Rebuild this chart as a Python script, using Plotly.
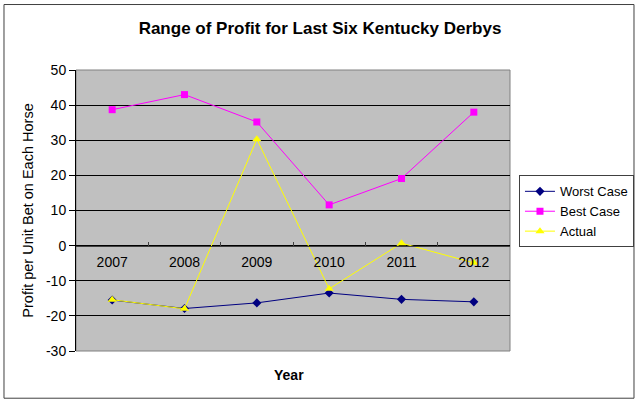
import plotly.graph_objects as go

# Kentucky Derby profit ranges
years = ["2007", "2008", "2009", "2010", "2011", "2012"]
worst_case = [-15.5, -17.9, -16.3, -13.5, -15.3, -16.0]
best_case = [38.7, 43.0, 35.2, 11.6, 19.1, 38.0]
actual = [-15.4, -18.0, 30.3, -12.3, 0.7, -4.9]
y_ticks = [-30, -20, -10, 0, 10, 20, 30, 40, 50]

FONT = "Arial, Liberation Sans, sans-serif"
Y_MIN, Y_MAX = -30, 50

fig = go.Figure()
fig.add_trace(go.Scatter(
    x=years, y=worst_case, name="Worst Case", mode="lines+markers",
    line=dict(color="#000080", width=1),
    marker=dict(symbol="diamond", size=7, color="#000080"),
))
fig.add_trace(go.Scatter(
    x=years, y=best_case, name="Best Case", mode="lines+markers",
    line=dict(color="#FF00FF", width=1),
    marker=dict(symbol="square", size=7, color="#FF00FF"),
))
fig.add_trace(go.Scatter(
    x=years, y=actual, name="Actual", mode="lines+markers",
    line=dict(color="#FFFF00", width=1),
    marker=dict(symbol="triangle-up", size=8, color="#FFFF00"),
))

# category axis sits on the zero line, like Excel does
zero_pos = (0 - Y_MIN) / (Y_MAX - Y_MIN)

fig.update_layout(
    width=640, height=403,
    margin=dict(l=76, r=130, t=70, b=52, autoexpand=False),
    paper_bgcolor="white",
    plot_bgcolor="#C0C0C0",
    font=dict(family=FONT, size=14, color="black"),
    title=dict(
        text="<b>Range of Profit for Last Six Kentucky Derbys</b>",
        x=0.5, xref="container", y=0.93, yref="container",
        xanchor="center", yanchor="middle",
        font=dict(size=17, family=FONT),
    ),
    xaxis=dict(
        type="category", automargin=False,
        range=[-0.5, len(years) - 0.5],
        anchor="free", position=zero_pos,
        showgrid=False, zeroline=False,
        showline=True, linecolor="#404040", linewidth=1,
        ticks="inside", tickson="boundaries", ticklen=4, tickcolor="#404040",
        ticklabelstandoff=4,
        tickfont=dict(size=14),
    ),
    yaxis=dict(
        range=[Y_MIN, Y_MAX], tickvals=y_ticks,
        ticktext=[str(v) for v in y_ticks],
        automargin=False,
        showgrid=True, gridcolor="black", gridwidth=1,
        zeroline=False,
        showline=True, linecolor="black", linewidth=1,
        ticks="outside", ticklen=6, tickcolor="black",
        tickfont=dict(size=14),
        title=dict(text="Profit per Unit Bet on Each Horse",
                   font=dict(size=14.5), standoff=8),
    ),
    legend=dict(
        x=1.0207, y=0.625, xanchor="left", yanchor="top",
        bordercolor="#404040", borderwidth=1,
        bgcolor="white", font=dict(size=13),
        itemwidth=30, tracegroupgap=0,
    ),
    showlegend=True,
)

fig.add_annotation(
    text="<b>Year</b>", xref="paper", yref="paper",
    x=0.49, y=-0.085, showarrow=False, font=dict(size=14),
    xanchor="center", yanchor="middle",
)

# plot area border and outer chart border
fig.add_shape(type="rect", xref="paper", yref="paper", x0=0, x1=1, y0=0, y1=1,
              line=dict(color="#808080", width=1), layer="below")
fig.add_shape(type="rect", xref="paper", yref="paper",
              x0=-0.1659, x1=1.2857, y0=-0.168, y1=1.233,
              line=dict(color="#404040", width=1))

# drop the page's default body margin so the chart sits at the window corner
fig.write_html("out.html", config={"displayModeBar": False},
               post_script="document.body.style.margin='0';")
